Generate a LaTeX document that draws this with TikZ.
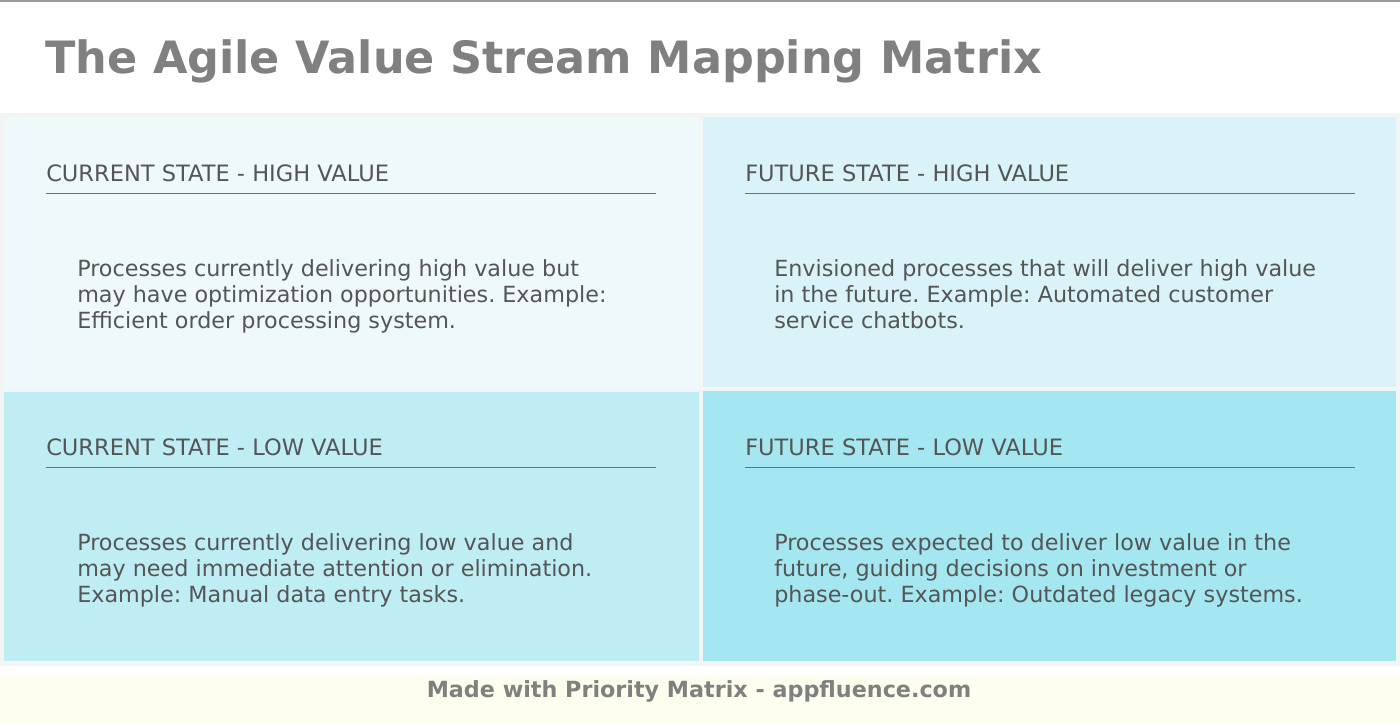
\documentclass[tikz,border=0pt]{standalone}
\usepackage{fontspec}
\setmainfont{DejaVu Sans}
\usetikzlibrary{positioning}
\definecolor{titlegray}{HTML}{808080}
\definecolor{textgray}{HTML}{555555}
\definecolor{rulegray}{HTML}{707070}
\definecolor{panelgray}{HTML}{F3F4F4}
\definecolor{qa}{HTML}{EEF9FC}
\definecolor{qb}{HTML}{D9F3F8}
\definecolor{qc}{HTML}{BEEDF4}
\definecolor{qd}{HTML}{A4E7F0}
\definecolor{footyellow}{HTML}{FDFEEE}
\frenchspacing

\begin{document}
\begin{tikzpicture}[x=.75pt, y=-.75pt,
  headtext/.style={anchor=base west, inner sep=0, text=textgray, font=\fontsize{16.9}{20}\selectfont},
  bodytext/.style={anchor=base west, inner sep=0, align=left, text=textgray, font=\fontsize{16.7}{19.5}\selectfont}]
\useasboundingbox (0,0) rectangle (1400,724);
\fill[white] (0,0) rectangle (1400,724);
\draw[gray!80, line width=1.5] (0,.75)--(1400,.75);
\node[anchor=base west, inner sep=0, text=titlegray, font=\bfseries\fontsize{33.4}{40}\selectfont] (title) at (45,74) {The Agile Value Stream Mapping Matrix};
\fill[panelgray] (0,113) rectangle (1400,666);
% quadrants
\foreach \qx/\qy/\qw/\qh/\col/\hx/\hy/\tx/\name/\head/\body in {
  4/117/695/272/qa/46/181/77/cshv/{CURRENT STATE - HIGH VALUE}/{Processes currently delivering high value but\\ may have optimization opportunities. Example:\\ Efficient order processing system.},
  703/117/693/270/qb/745/181/774/fshv/{FUTURE STATE - HIGH VALUE}/{Envisioned processes that will deliver high value\\ in the future. Example: Automated customer\\ service chatbots.},
  4/392/695/269/qc/46/455/77/cslv/{CURRENT STATE - LOW VALUE}/{Processes currently delivering low value and\\ may need immediate attention or elimination.\\ Example: Manual data entry tasks.},
  703/391/693/270/qd/745/455/774/fslv/{FUTURE STATE - LOW VALUE}/{Processes expected to deliver low value in the\\ future, guiding decisions on investment or\\ phase-out. Example: Outdated legacy systems.}} {
  \fill[\col] (\qx,\qy) rectangle ++(\qw,\qh);
  \node[headtext] (\name) at (\hx,\hy) {\head};
  \draw[rulegray, line width=1.2] (\hx,\hy+12.5) --++(610,0);
  \node[bodytext] (\name-txt) at (\tx,\hy+147) {\body};
}
\fill[footyellow] (0,676) rectangle (1400,724);
\node[anchor=base, inner sep=0, text=titlegray, font=\bfseries\fontsize{16.7}{18}\selectfont] (footer) at (699,697) {Made with Priority Matrix - appfluence.com};
\end{tikzpicture}
\end{document}
